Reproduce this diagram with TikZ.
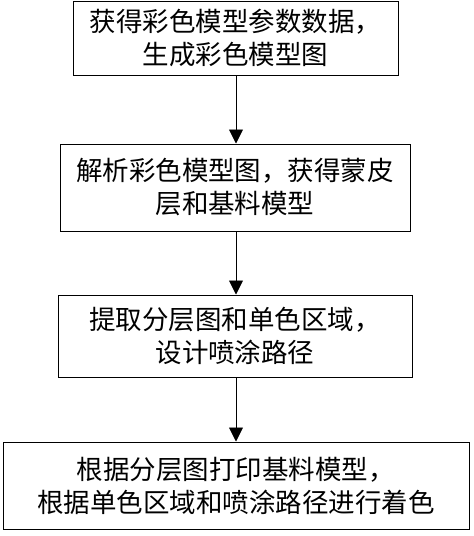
\documentclass[tikz,border=0pt]{standalone}
\usepackage{fontspec}
\setmainfont{Noto Sans CJK SC}
\usetikzlibrary{arrows.meta}
\begin{document}
\begin{tikzpicture}[x=1pt,y=-1pt,
  stepbox/.style={draw=black,line width=1pt,align=center,inner sep=0pt,
    font=\fontsize{26.5}{33}\selectfont},
  flow/.style={draw=black,line width=0.9pt,-{Triangle[length=14pt,width=14pt]}}]
\useasboundingbox (0,0) rectangle (474,536);
\node[stepbox,minimum width=325pt,minimum height=74pt] (b1) at (235.5,38) {获得彩色模型参数数据，\\生成彩色模型图};
\node[stepbox,minimum width=350pt,minimum height=87pt] (b2) at (235,187.5) {解析彩色模型图，获得蒙皮\\层和基料模型};
\node[stepbox,minimum width=354pt,minimum height=82pt] (b3) at (235,336) {提取分层图和单色区域，\\设计喷涂路径};
\node[stepbox,minimum width=466pt,minimum height=87pt] (b4) at (236,485.5) {根据分层图打印基料模型，\\根据单色区域和喷涂路径进行着色};
\draw[flow] (b1.south -| 236,0) -- (b2.north -| 236,0);
\draw[flow] (b2.south -| 236,0) -- (b3.north -| 236,0);
\draw[flow] (b3.south -| 236,0) -- (b4.north -| 236,0);
\end{tikzpicture}
\end{document}
